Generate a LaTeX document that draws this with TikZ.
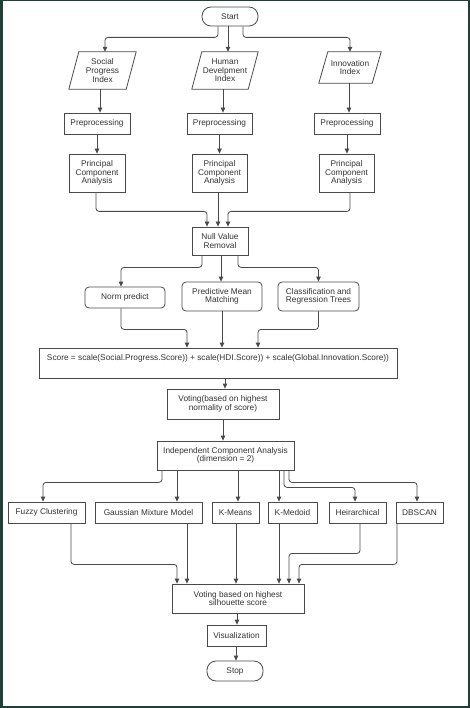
\documentclass[tikz,border=0pt]{standalone}
\usepackage{fontspec}
\setmainfont{Liberation Sans}
\usetikzlibrary{arrows.meta}
\definecolor{frame}{HTML}{1F3F37}
\definecolor{ln}{HTML}{4A4A4A}
\definecolor{tx}{HTML}{333333}
\begin{document}
\begin{tikzpicture}[x=1pt,y=-1pt,
  every node/.style={font=\fontsize{8.3}{8.6}\selectfont, text=tx, align=center, inner sep=0pt},
  box/.style={draw=ln, line width=0.8pt, rectangle, minimum width=#1},
  rbox/.style={draw=ln, line width=0.8pt, rectangle, rounded corners=4pt, minimum width=#1},
  pill/.style={draw=ln, line width=0.8pt, rectangle, rounded corners=9pt, minimum width=56pt, minimum height=19pt},
  para/.style={rectangle, minimum width=#1},
  arr/.style={draw=ln, line width=0.8pt, rounded corners=3pt, -{Triangle[width=4.5pt,length=5pt]}}
]
\useasboundingbox (0,0) rectangle (470,708);
\fill[frame] (0,0) rectangle (470,708);
\fill[white] (2.5,1.5) rectangle (467.5,705.5);

% nodes
\node[pill] (start) at (230,16.5) {Start};
\node[para=57pt, minimum height=37pt] (p1) at (102.5,70.5) {Social\\Progress\\Index};
\node[para=56pt, minimum height=37pt] (p2) at (225,70.5) {Human\\Develpment\\Index};
\node[para=53pt, minimum height=31pt] (p3) at (350,67.5) {Innovation\\Index};
\draw[ln, line width=0.8pt] ([xshift=5pt]p1.north west) -- ([xshift=5pt]p1.north east) -- ([xshift=-5pt]p1.south east) -- ([xshift=-5pt]p1.south west) -- cycle;
\draw[ln, line width=0.8pt] ([xshift=5pt]p2.north west) -- ([xshift=5pt]p2.north east) -- ([xshift=-5pt]p2.south east) -- ([xshift=-5pt]p2.south west) -- cycle;
\draw[ln, line width=0.8pt] ([xshift=4.5pt]p3.north west) -- ([xshift=4.5pt]p3.north east) -- ([xshift=-4.5pt]p3.south east) -- ([xshift=-4.5pt]p3.south west) -- cycle;

\node[box=66pt, minimum height=21pt] (pre1) at (97,123.5) {Preprocessing};
\node[box=65pt, minimum height=21pt] (pre2) at (219.5,123.5) {Preprocessing};
\node[box=66pt, minimum height=21pt] (pre3) at (347,123.5) {Preprocessing};

\node[box=56pt, minimum height=38pt] (pca1) at (97,173) {Principal\\Component\\Analysis};
\node[box=55pt, minimum height=38pt] (pca2) at (219.5,173) {Principal\\Component\\Analysis};
\node[box=55pt, minimum height=38pt] (pca3) at (346.5,173) {Principal\\Component\\Analysis};

\node[box=56pt, minimum height=28pt] (null) at (220,241) {Null Value\\Removal};

\node[rbox=80pt, minimum height=21pt] (norm) at (125,297.5) {Norm predict};
\node[rbox=80pt, minimum height=29pt] (pmm) at (222,296.5) {Predictive Mean\\Matching};
\node[rbox=81pt, minimum height=29pt] (cart) at (318.5,296.5) {Classification and\\Regression Trees};

\node[box=358pt, text height=8pt, text depth=13pt, inner ysep=4.5pt] (score) at (218,363) {Score = scale(Social.Progress.Score)) + scale(HDI.Score)) + scale(Global.Innovation.Score))};

\node[box=112pt, minimum height=30pt] (vote1) at (223,404) {Voting(based on highest\\normality of score)};
\node[box=137pt, minimum height=29pt] (ica) at (225.5,455.5) {Independent Component Analysis\\(dimension = 2)};

\node[box=77pt, minimum height=21pt] (fuzzy) at (46.5,512.5) {Fuzzy Clustering};
\node[box=107pt, minimum height=21pt] (gmm) at (148.5,512.5) {Gaussian Mixture Model};
\node[box=47pt, minimum height=21pt] (kmeans) at (235.5,512.5) {K-Means};
\node[box=49pt, minimum height=21pt] (kmed) at (292.5,512.5) {K-Medoid};
\node[box=57pt, minimum height=21pt] (heir) at (357.5,512.5) {Heirarchical};
\node[box=47pt, minimum height=21pt] (dbscan) at (419.5,512.5) {DBSCAN};

\node[box=132pt, minimum height=29pt] (vote2) at (238,598.5) {Voting based on highest\\silhouette score};
\node[box=59pt, minimum height=21pt] (vis) at (236.5,635.5) {Visualization};
\node[pill, minimum height=20pt] (stop) at (235,671) {Stop};

% connectors
\draw[arr] ([xshift=-12pt]start.south) -- ++(0,11) -| ([xshift=2.5pt]p1.north);
\draw[arr] ([xshift=-2pt]start.south) -- ([xshift=-2pt]start.south |- p2.north);
\draw[arr] ([xshift=13pt]start.south) -- ++(0,11) -| (p3.north);

\draw[arr] ([xshift=3pt]pre1.north |- p1.south) -- ([xshift=3pt]pre1.north);
\draw[arr] ([xshift=3.5pt]pre2.north |- p2.south) -- ([xshift=3.5pt]pre2.north);
\draw[arr] ([xshift=2pt]pre3.north |- p3.south) -- ([xshift=2pt]pre3.north);

\draw[arr] (pre1.south) -- (pca1.north);
\draw[arr] (pre2.south) -- (pca2.north);
\draw[arr] (pre3.south) -- (pre3.south |- pca3.north);

\draw[arr] ([xshift=-1pt]pca1.south) -- ++(0,19) -| ([xshift=-13pt]null.north);
\draw[arr] ([xshift=-1.5pt]pca2.south) -- ([xshift=-1.5pt]pca2.south |- null.north);
\draw[arr] ([xshift=3.5pt]pca3.south) -- ++(0,19) -| ([xshift=8pt]null.north);

\draw[arr] ([xshift=-18pt]null.south) -- ++(0,12) -| ([xshift=-4pt]norm.north);
\draw[arr] ([xshift=1pt]null.south) -- ([xshift=1pt]null.south |- pmm.north);
\draw[arr] ([xshift=18pt]null.south) -- ++(0,12) -| (cart.north);

\draw[arr] ([xshift=-4pt]norm.south) -- ++(0,21) -| ([xshift=-31pt]score.north);
\draw[arr] (pmm.south) -- (pmm.south |- score.north);
\draw[arr] (cart.south) -- ++(0,18) -| ([xshift=40pt]score.north);

\draw[arr] ([xshift=7pt]score.south) -- ([xshift=7pt]score.south |- vote1.north);
\draw[arr] (vote1.south) -- (vote1.south |- ica.north);

\draw[arr] ([xshift=-63.5pt]ica.south) -- ++(0,12) -| ([xshift=-3.5pt]fuzzy.north);
\draw[arr] ([xshift=-48.5pt]ica.south) -- ([xshift=-48.5pt]ica.south |- gmm.north);
\draw[arr] ([xshift=12.5pt]ica.south) -- ([xshift=12.5pt]ica.south |- kmeans.north);
\draw[arr] ([xshift=53.5pt]ica.south) -- ([xshift=53.5pt]ica.south |- kmed.north);
\draw[arr] ([xshift=58.5pt]ica.south) -- ++(0,17) -| ([xshift=-2.5pt]heir.north);
\draw[arr] ([xshift=63.5pt]ica.south) -- ++(0,12) -| ([xshift=-2.5pt]dbscan.north);

\draw[arr] ([xshift=24.5pt]fuzzy.south) -- ++(0,41) -| ([xshift=-61pt]vote2.north);
\draw[arr] ([xshift=38.5pt]gmm.south) -- ([xshift=38.5pt]gmm.south |- vote2.north);
\draw[arr] ([xshift=0.5pt]kmeans.south) -- ([xshift=0.5pt]kmeans.south |- vote2.north);
\draw[arr] ([xshift=-13.5pt]kmed.south) -- ([xshift=-13.5pt]kmed.south |- vote2.north);
\draw[arr] ([xshift=2.5pt]heir.south) -- ++(0,30) -| ([xshift=51pt]vote2.north);
\draw[arr] ([xshift=-22.5pt]dbscan.south) -- ++(0,41) -| ([xshift=61pt]vote2.north);

\draw[arr] ([xshift=-1pt]vote2.south) -- ([xshift=-1pt]vote2.south |- vis.north);
\draw[arr] ([xshift=-0.5pt]vis.south) -- ([xshift=-0.5pt]vis.south |- stop.north);
\end{tikzpicture}
\end{document}
